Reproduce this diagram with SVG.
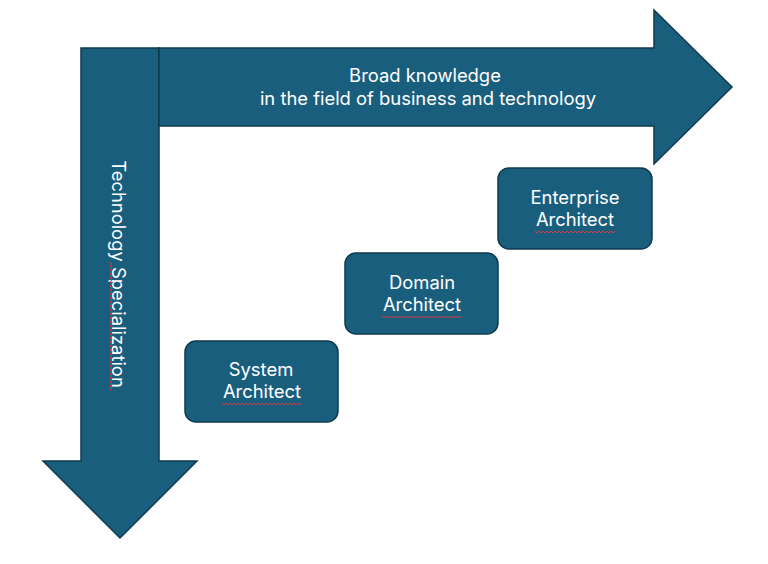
<svg xmlns="http://www.w3.org/2000/svg" width="768" height="564" viewBox="0 0 768 564">
<style>
.shape{fill:#1A5E7E;stroke:#0E3A4E;stroke-width:1.5;stroke-linejoin:miter}
.box{fill:#1A5E7E;stroke:#0E3A4E;stroke-width:1.5}
.t{font-family:Inter,"Liberation Sans",Arial,sans-serif;font-size:18.4px;fill:#FFFFFF;text-anchor:middle}
.sq{fill:none;stroke:#D43A3A;stroke-width:1}
</style>
<rect width="768" height="564" fill="#FFFFFF"/>
<g id="arrow-specialization">
<polygon class="shape" points="81,48 159,48 159,461 197,461 120,538 43,461 81,461"/>
<text class="t" transform="translate(112,274) rotate(90)">Technology Specialization</text>
<path class="sq" d="M110,262 l2,2 l-2,2 l2,2 l-2,2 l2,2 l-2,2 l2,2 l-2,2 l2,2 l-2,2 l2,2 l-2,2 l2,2 l-2,2 l2,2 l-2,2 l2,2 l-2,2 l2,2 l-2,2 l2,2 l-2,2 l2,2 l-2,2 l2,2 l-2,2 l2,2 l-2,2 l2,2 l-2,2 l2,2 l-2,2 l2,2 l-2,2 l2,2 l-2,2 l2,2 l-2,2 l2,2 l-2,2 l2,2 l-2,2 l2,2 l-2,2 l2,2 l-2,2 l2,2 l-2,2 l2,2 l-2,2 l2,2 l-2,2 l2,2 l-2,2 l2,2 l-2,2 l2,2 l-2,2 l2,2 l-2,2 l2,2 l-2,2 l2,2 l-2,2"/>
</g>
<g id="arrow-broad">
<polygon class="shape" points="159,48 654,48 654,10 732,87 654,164 654,126 159,126"/>
<text class="t" x="425" y="82">Broad knowledge</text>
<text class="t" x="428" y="105">in the field of business and technology</text>
</g>
<g id="node-system">
<rect class="box" x="185" y="341" width="153" height="81" rx="11"/>
<text class="t" x="261" y="376">System</text>
<text class="t" x="262" y="398">Architect</text>
<path class="sq" d="M222,403 l2,2 l2,-2 l2,2 l2,-2 l2,2 l2,-2 l2,2 l2,-2 l2,2 l2,-2 l2,2 l2,-2 l2,2 l2,-2 l2,2 l2,-2 l2,2 l2,-2 l2,2 l2,-2 l2,2 l2,-2 l2,2 l2,-2 l2,2 l2,-2 l2,2 l2,-2 l2,2 l2,-2 l2,2 l2,-2 l2,2 l2,-2 l2,2 l2,-2 l2,2 l2,-2 l2,2 l2,-2"/>
</g>
<g id="node-domain">
<rect class="box" x="345" y="253" width="153" height="81" rx="11"/>
<text class="t" x="422" y="289">Domain</text>
<text class="t" x="422" y="311">Architect</text>
<path class="sq" d="M382,316 l2,2 l2,-2 l2,2 l2,-2 l2,2 l2,-2 l2,2 l2,-2 l2,2 l2,-2 l2,2 l2,-2 l2,2 l2,-2 l2,2 l2,-2 l2,2 l2,-2 l2,2 l2,-2 l2,2 l2,-2 l2,2 l2,-2 l2,2 l2,-2 l2,2 l2,-2 l2,2 l2,-2 l2,2 l2,-2 l2,2 l2,-2 l2,2 l2,-2 l2,2 l2,-2 l2,2 l2,-2"/>
</g>
<g id="node-enterprise">
<rect class="box" x="498" y="168" width="154" height="81" rx="11"/>
<text class="t" x="575" y="204">Enterprise</text>
<text class="t" x="575" y="226">Architect</text>
<path class="sq" d="M535,231 l2,2 l2,-2 l2,2 l2,-2 l2,2 l2,-2 l2,2 l2,-2 l2,2 l2,-2 l2,2 l2,-2 l2,2 l2,-2 l2,2 l2,-2 l2,2 l2,-2 l2,2 l2,-2 l2,2 l2,-2 l2,2 l2,-2 l2,2 l2,-2 l2,2 l2,-2 l2,2 l2,-2 l2,2 l2,-2 l2,2 l2,-2 l2,2 l2,-2 l2,2 l2,-2 l2,2 l2,-2"/>
</g>
<g id="connectors"></g>
</svg>
